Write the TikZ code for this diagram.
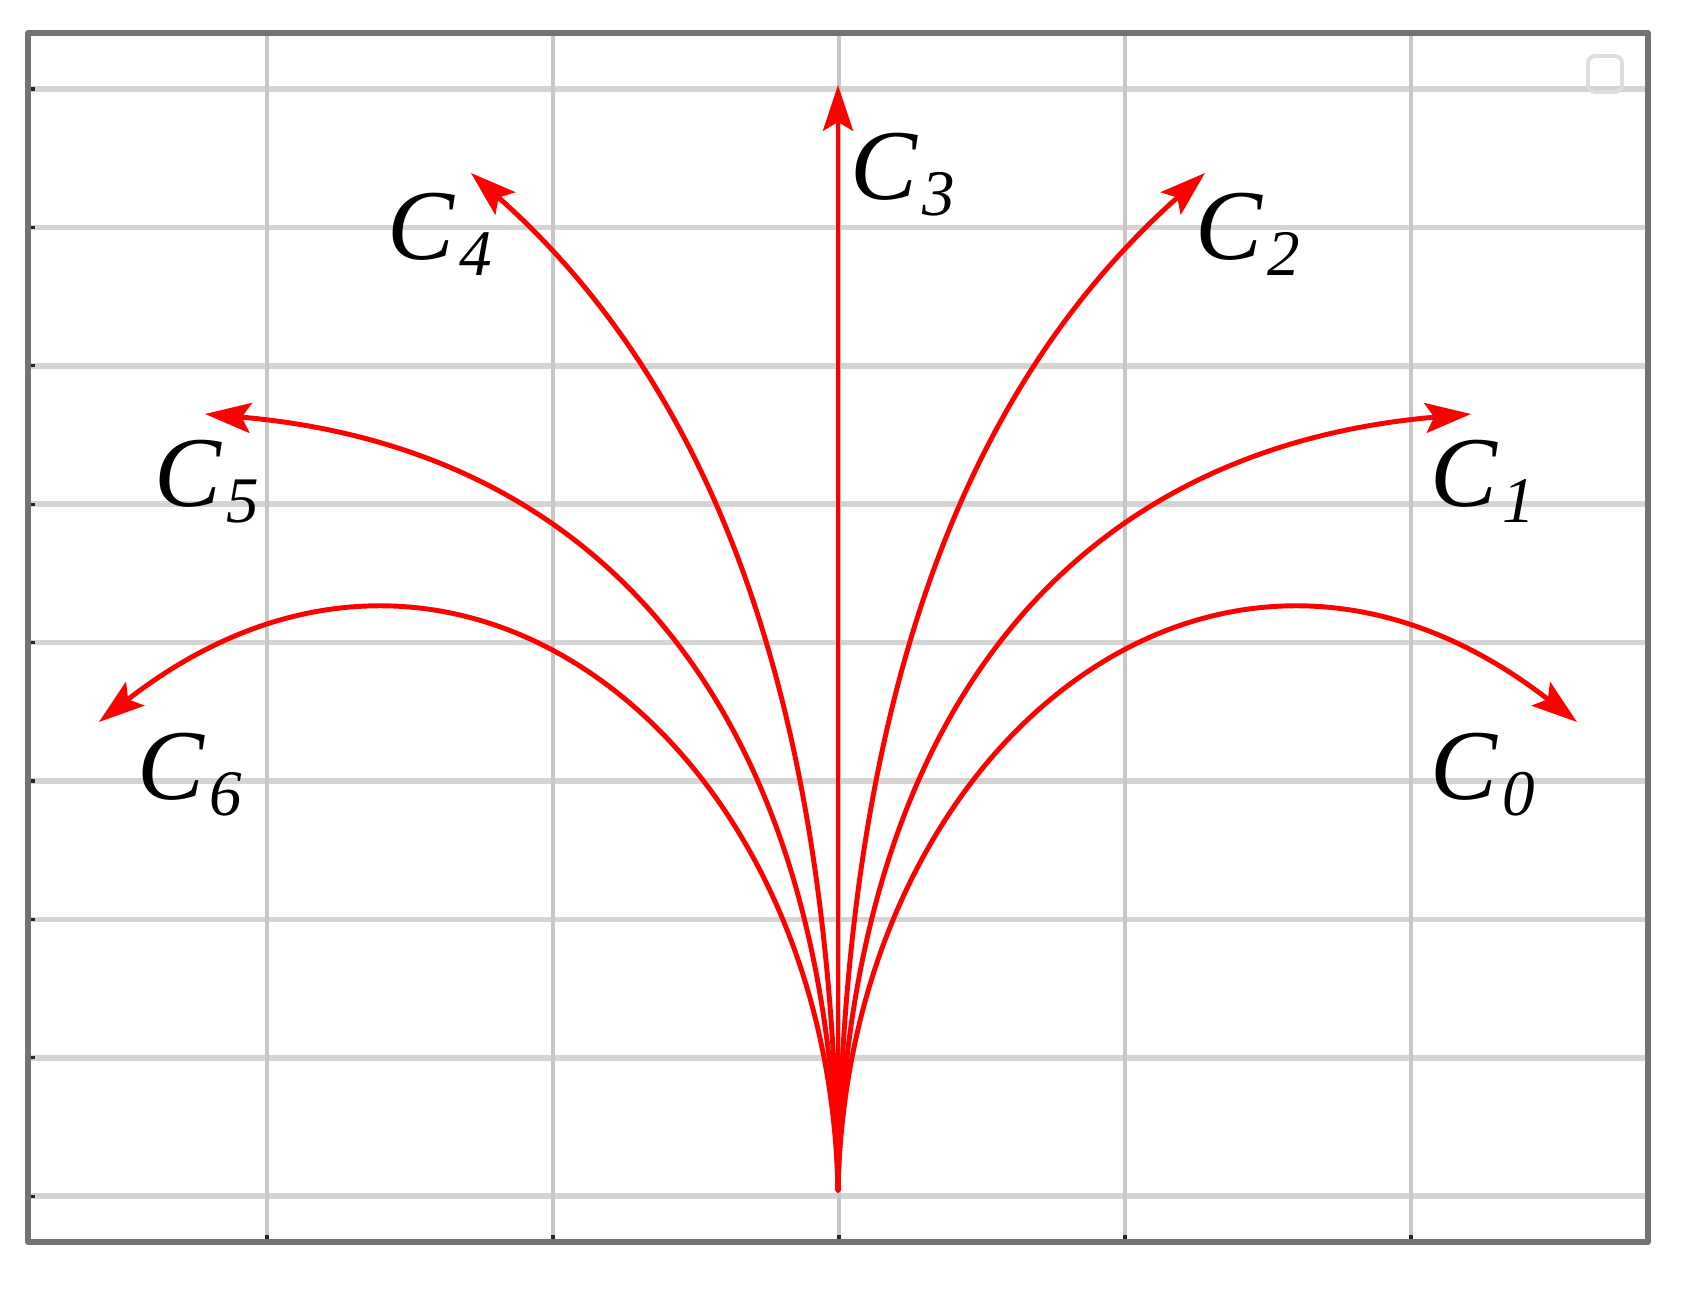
\documentclass[tikz,border=0pt]{standalone}
\usepackage{fontspec}
\setmainfont{Liberation Serif}
\usepackage{tikz}
\usetikzlibrary{arrows.meta}

\newcommand{\clab}[1]{C\kern1.5pt\raisebox{-4.3pt}{\fontsize{18.5}{18.5}\selectfont #1}}

\begin{document}
\begin{tikzpicture}[
  x=0.01cm,y=-0.01cm,
  line cap=round,line join=round,
  gridh/.style={black!17,line width=1.6pt,line cap=butt},
  gridv/.style={black!22,line width=1.2pt,line cap=butt},
  frame/.style={black!55,line width=1.6pt,line cap=rect},
  tickmark/.style={black!85,line width=0.9pt,line cap=butt},
  curve/.style={red,line width=1.4pt,-{Stealth[length=13pt,width=8.5pt,inset=2.5pt]}},
  clabel/.style={anchor=base west,inner sep=0pt,font=\fontsize{28.5}{28.5}\selectfont\itshape}
]
  \useasboundingbox (0,0) rectangle (1694,1292);

  % Grid
  \foreach \gy in {89,227.4,365.8,504.2,642.6,781,919.4,1057.8,1196.2}{
    \draw[gridh] (28,\gy) -- (1648,\gy);
    \draw[tickmark] (30,\gy) -- ++(5,0);
  }
  \foreach \gx in {267,553,839,1125,1411}{
    \draw[gridv] (\gx,33) -- (\gx,1242);
    \draw[tickmark] (\gx,1240) -- ++(0,-5);
  }
  \draw[frame] (28,33) rectangle (1648,1242);
  \draw[black!13,line width=1.1pt,rounded corners=2pt] (1588,56) rectangle (1622,92);

  % Start point and arrow tips
  \coordinate (base) at (838,1190);
  \foreach \n/\tx/\ty in {0/1577/722,1/1471/414,2/1205/173,3/838/85,4/471/173,5/205/414,6/99/722}
    \coordinate (tip\n) at (\tx,\ty);

  % Curves, right side and mirrored left side
  \foreach \n/\m/\s/\a/\dx/\dy in {0/6/10/450/355/-277,1/5/10/470/405/35,2/4/5/450/261/232}{
    \draw[curve] (base) .. controls +(\s,-\a) and +(-\dx,\dy) .. (tip\n);
    \draw[curve] (base) .. controls +(-\s,-\a) and +(\dx,\dy) .. (tip\m);
  }
  \draw[curve] (base) -- (tip3);

  % Labels
  \foreach \n/\lx/\ly in {0/1430/800,1/1430/507,2/1195/260,3/850/200,4/387/260,5/154/507,6/137/800}
    \node[clabel] (lab\n) at (\lx,\ly) {\clab{\n}};
\end{tikzpicture}
\end{document}
